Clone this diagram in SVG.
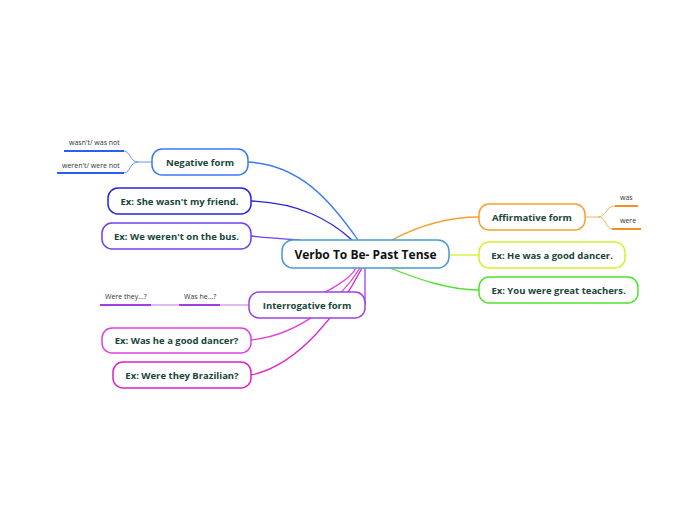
<svg xmlns="http://www.w3.org/2000/svg" width="697" height="520" viewBox="0 0 697 520">
<style>
.n{fill:#fff;stroke-width:1.5}
.t{font-family:"Open Sans","Noto Sans",sans-serif;font-weight:bold;font-size:9.5px;fill:#17453a;text-anchor:middle}
.s{font-family:"Open Sans","Noto Sans",sans-serif;font-size:7px;fill:#333}
.c{fill:none;stroke-width:1.3}
</style>
<rect width="697" height="520" fill="#fff"/>
<g id="connectors">
<path class="c" stroke="#3a7af5" d="M248 162 C300 165 330 200 358 240"/>
<path class="c" stroke="#2424e0" d="M251 201 C300 203 330 220 352 240"/>
<path class="c" stroke="#7040f0" d="M251 236 C270 238 285 239 300 240"/>
<path class="c" stroke="#a040e0" d="M365 305 L365 268"/>
<path class="c" stroke="#e040e0" d="M251 340 C300 335 340 300 360 268"/>
<path class="c" stroke="#e020c8" d="M251 375 C300 365 340 310 362 268"/>
<path class="c" stroke="#e040e0" d="M300 305 C330 290 350 280 356 268"/>
<path class="c" stroke="#f5a030" d="M392 240 C420 225 450 217 479 217"/>
<path class="c" stroke="#d4f030" d="M449 255 L479 255"/>
<path class="c" stroke="#50e030" d="M390 268 C420 280 450 290 479 290"/>
<path fill="none" stroke="#3a7af5" stroke-width="0.8" d="M152 162 L138 162 C130 162 130 151 124 151 M138 162 C130 162 130 173 124 173"/>
<path fill="none" stroke="#2a5ef0" stroke-width="2" d="M64 151 L124 151 M57 173 L124 173"/>
<path fill="none" stroke="#f5a030" stroke-width="0.8" d="M585 217 L598 217 C606 217 606 206 615 206 M598 217 C606 217 606 229 612 229"/>
<path fill="none" stroke="#f59020" stroke-width="2" d="M615 206 L638 206 M612 229 L641 229"/>
<path fill="none" stroke="#b050e8" stroke-width="0.8" d="M151 305 L249 305"/>
<path fill="none" stroke="#a040e0" stroke-width="2" d="M100 305 L151 305 M179 305 L220 305"/>
</g>
<g id="center"><rect class="n" x="282" y="240" width="167" height="28" rx="11" stroke="#4a9ad0"/><text x="365.5" y="258.5" style="font-family:'Open Sans','Noto Sans',sans-serif;font-weight:bold;font-size:12px;fill:#111;text-anchor:middle">Verbo To Be- Past Tense</text></g>
<g id="neg"><rect class="n" x="152" y="149" width="96" height="26" rx="10" stroke="#3a7af5"/><text class="t" x="200" y="165.5">Negative form</text></g>
<g id="she"><rect class="n" x="108" y="188" width="143" height="26" rx="10" stroke="#2424e0"/><text class="t" x="179.5" y="204.5">Ex: She wasn't my friend.</text></g>
<g id="we"><rect class="n" x="102" y="223" width="149" height="26" rx="10" stroke="#7040f0"/><text class="t" x="176.5" y="239.5">Ex: We weren't on the bus.</text></g>
<g id="inter"><rect class="n" x="249" y="292" width="116" height="26" rx="10" stroke="#a040e0"/><text class="t" x="307" y="308.5">Interrogative form</text></g>
<g id="washe"><rect class="n" x="102" y="328" width="149" height="25" rx="10" stroke="#e040e0"/><text class="t" x="176.5" y="344">Ex: Was he a good dancer?</text></g>
<g id="werethey"><rect class="n" x="113" y="362" width="138" height="26" rx="10" stroke="#e020c8"/><text class="t" x="182" y="378.5">Ex: Were they Brazilian?</text></g>
<g id="aff"><rect class="n" x="479" y="204" width="106" height="26" rx="10" stroke="#f5a030"/><text class="t" x="532" y="220.5">Affirmative form</text></g>
<g id="he"><rect class="n" x="479" y="242" width="146" height="26" rx="10" stroke="#d4f030"/><text class="t" x="552" y="258.5">Ex: He was a good dancer.</text></g>
<g id="you"><rect class="n" x="479" y="277" width="159" height="26" rx="10" stroke="#50e030"/><text class="t" x="558.5" y="293.5">Ex: You were great teachers.</text></g>
<g id="subs">
<text class="s" x="69" y="145">wasn't/ was not</text>
<text class="s" x="62" y="168">weren't/ were not</text>
<text class="s" x="620" y="200">was</text>
<text class="s" x="620" y="223">were</text>
<text class="s" x="105" y="299">Were they...?</text>
<text class="s" x="184" y="299">Was he...?</text>
</g>
</svg>
